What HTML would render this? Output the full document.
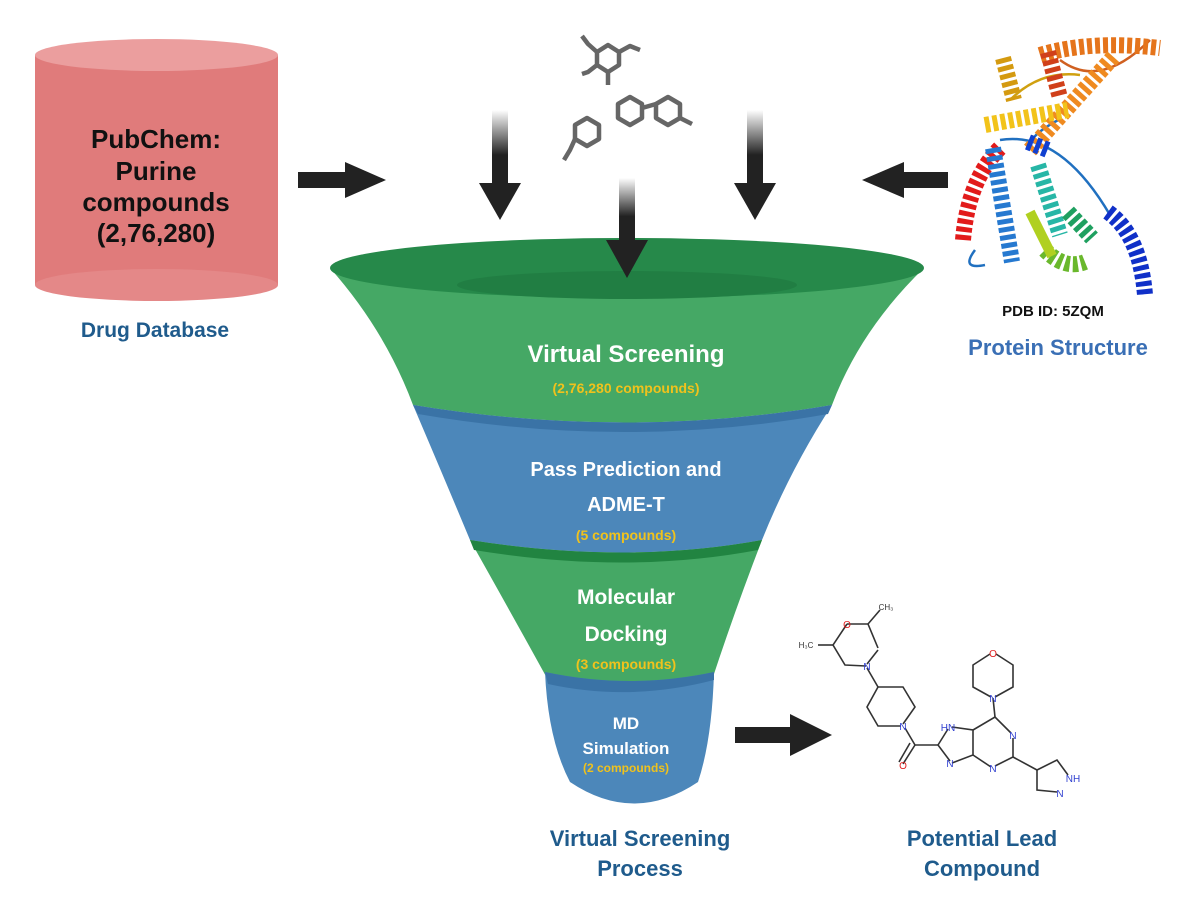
<!DOCTYPE html>
<html><head><meta charset="utf-8"><style>
html,body{margin:0;padding:0;background:#fff;}
svg{display:block;font-family:"Liberation Sans",sans-serif;}
</style></head><body>
<svg width="1200" height="897" viewBox="0 0 1200 897" xmlns="http://www.w3.org/2000/svg">
<defs>
<linearGradient id="fd" x1="0" y1="0" x2="0" y2="1"><stop offset="0" stop-color="#222" stop-opacity="0"/><stop offset="0.6" stop-color="#222" stop-opacity="1"/></linearGradient>
</defs>
<!-- cylinder -->
<rect x="35" y="55" width="243" height="230" fill="#e07b7b"/>
<ellipse cx="156.5" cy="285" rx="121.5" ry="16" fill="#e48888"/>
<ellipse cx="156.5" cy="55" rx="121.5" ry="16" fill="#eb9e9e"/>
<g font-weight="bold" font-size="26" text-anchor="middle" fill="#111">
<text x="156" y="148">PubChem:</text><text x="156" y="180">Purine</text><text x="156" y="211">compounds</text><text x="156" y="242">(2,76,280)</text>
</g>
<text x="155" y="337" font-weight="bold" font-size="21" text-anchor="middle" fill="#1f5b8c">Drug Database</text>
<!-- arrows -->
<g fill="#222">
<rect x="298" y="172" width="50" height="16"/><polygon points="345,162 386,180 345,198"/>
<rect x="902" y="172" width="46" height="16"/><polygon points="904,162 862,180 904,198"/>
<polygon points="735,727 790,727 790,714 832,735 790,756 790,743 735,743"/>
</g>
<rect x="492" y="110" width="16" height="75" fill="url(#fd)"/><polygon points="479,183 521,183 500,220" fill="#222"/>
<rect x="747" y="110" width="16" height="75" fill="url(#fd)"/><polygon points="734,183 776,183 755,220" fill="#222"/>
<!-- small molecules -->
<g stroke="#666" stroke-width="4.5" fill="none" stroke-linejoin="round">
<polygon points="597,52 608,45 619,52 619,65 608,72 597,65"/><polyline points="597,52 588,44 582,36"/><polyline points="619,52 630,46 640,50"/><polyline points="597,65 588,72 582,74"/><polyline points="608,72 608,85"/>
<polygon points="575,125 587,118 599,125 599,139 587,146 575,139"/><polyline points="575,139 570,150 564,160"/>
<polygon points="618,104 630,97 642,104 642,118 630,125 618,118"/><polyline points="642,108 656,104"/>
<polygon points="656,104 668,97 680,104 680,118 668,125 656,118"/><polyline points="680,118 692,124"/>
</g>
<!-- funnel -->
<path d="M330,268 Q385,330 413,405 Q626,440 832,405 Q860,330 924,268 Z" fill="#45a865"/>
<ellipse cx="627" cy="268" rx="297" ry="30" fill="#26894a"/>
<ellipse cx="627" cy="285" rx="170" ry="14" fill="#217e43"/>
<path d="M413,405 Q445,480 470,540 Q626,565 762,540 Q790,470 832,405 Q626,440 413,405 Z" fill="#4c87ba"/>
<path d="M413,405 Q626,440 832,405 L828,414 Q626,450 418,414 Z" fill="#3a73a6"/>
<path d="M470,540 Q515,620 548,680 Q630,695 712,680 Q735,610 762,540 Q626,565 470,540 Z" fill="#45a865"/>
<path d="M470,540 Q626,565 762,540 L758,550 Q626,575 474,550 Z" fill="#218441"/>
<path d="M545,672 Q548,740 570,782 Q634,825 698,782 Q712,740 714,672 Q630,690 545,672 Z" fill="#4c87ba"/>
<path d="M545,672 Q630,690 714,672 L714,680 Q630,702 548,684 Z" fill="#3a73a6"/>
<rect x="619" y="178" width="16" height="64" fill="url(#fd)"/><polygon points="606,240 648,240 627,278" fill="#222"/>
<g font-weight="bold" text-anchor="middle" fill="#fff">
<text x="626" y="362" font-size="24">Virtual Screening</text>
<text x="626" y="476" font-size="20">Pass Prediction and</text>
<text x="626" y="511" font-size="20">ADME-T</text>
<text x="626" y="604" font-size="21">Molecular</text>
<text x="626" y="641" font-size="21">Docking</text>
<text x="626" y="729" font-size="17">MD</text>
<text x="626" y="754" font-size="17">Simulation</text>
</g>
<g font-weight="bold" text-anchor="middle" fill="#f0c21c">
<text x="626" y="393" font-size="14">(2,76,280 compounds)</text>
<text x="626" y="540" font-size="14">(5 compounds)</text>
<text x="626" y="669" font-size="14">(3 compounds)</text>
<text x="626" y="772" font-size="12">(2 compounds)</text>
</g>
<g font-weight="bold" text-anchor="middle" fill="#1f5b8c" font-size="22">
<text x="640" y="846">Virtual Screening</text><text x="640" y="876">Process</text>
<text x="982" y="846">Potential Lead</text><text x="982" y="876">Compound</text>
</g>
<!-- protein -->
<g fill="none" stroke-width="2.5">
<path d="M1000,140 Q1060,130 1110,215 M975,250 Q960,270 985,265 M1062,118 Q1020,140 1035,150" stroke="#2070c0"/>
<path d="M1060,60 Q1100,90 1150,40" stroke="#d06020"/>
<path d="M1010,100 Q1040,70 1080,75" stroke="#d0a010"/>
</g>
<g fill="none" stroke-linecap="butt" stroke-width="16" stroke-dasharray="5 3">
<path d="M1040,55 Q1090,40 1160,48" stroke="#e5741b"/>
<path d="M1048,52 L1060,98" stroke="#d0401a"/>
<path d="M1003,58 L1014,100" stroke="#d49a10"/>
<path d="M1030,150 L1115,55" stroke="#ef8a20"/>
<path d="M985,125 L1068,110" stroke="#f2c31a"/>
<path d="M963,240 Q968,180 1000,148" stroke="#e21b1b"/>
<path d="M993,148 L1012,262" stroke="#2679d0"/>
<path d="M1038,165 L1060,235" stroke="#27b6a6"/>
<path d="M1045,250 Q1065,270 1085,262" stroke="#6ab82c"/>
<path d="M1068,212 L1092,238" stroke="#1fa060"/>
<path d="M1108,212 Q1140,235 1145,295" stroke="#1030c8"/>
<path d="M1028,142 L1048,150" stroke="#1040d0"/>
</g>
<path d="M1030,212 L1052,256" stroke="#b0d020" stroke-width="10" fill="none"/>
<text x="1053" y="316" font-weight="bold" font-size="15" text-anchor="middle" fill="#111">PDB ID: 5ZQM</text>
<text x="1058" y="355" font-weight="bold" font-size="22" text-anchor="middle" fill="#3a6fb5">Protein Structure</text>
<!-- lead molecule -->
<g stroke="#333" stroke-width="1.6" fill="none">
<polyline points="847,624 868,624 878,648"/><line x1="868" y1="624" x2="880" y2="610"/>
<polyline points="866,666 845,665 833,645 847,624"/><line x1="833" y1="645" x2="818" y2="645"/>
<line x1="878" y1="650" x2="867" y2="664"/><line x1="867" y1="668" x2="878" y2="687"/>
<polyline points="878,687 903,687 915,707 903,724"/><polyline points="901,726 878,726 867,707 878,687"/>
<polyline points="905,728 915,745 938,745"/><line x1="915" y1="745" x2="903" y2="764"/><line x1="910" y1="743" x2="899" y2="762"/>
<polyline points="938,745 948,729"/><polyline points="938,745 950,761"/>
<polyline points="952,727 973,730 973,755 952,763"/>
<polyline points="973,730 995,717 1011,733"/><line x1="993" y1="698" x2="995" y2="717"/>
<polyline points="1013,738 1013,757 995,766"/><polyline points="991,767 973,755"/>
<line x1="1013" y1="757" x2="1037" y2="770"/>
<polyline points="1037,770 1057,760 1068,775"/><polyline points="1037,770 1037,790 1057,792"/>
<polyline points="991,697 973,687 973,665 990,654"/><polyline points="996,654 1013,665 1013,687 995,697"/>
</g>
<g font-size="10" text-anchor="middle">
<text x="847" y="628" fill="#e02020">O</text>
<text x="867" y="670" fill="#3040d0">N</text>
<text x="903" y="730" fill="#3040d0">N</text>
<text x="903" y="769" fill="#e02020">O</text>
<text x="948" y="731" fill="#3040d0">HN</text>
<text x="950" y="767" fill="#3040d0">N</text>
<text x="1013" y="739" fill="#3040d0">N</text>
<text x="993" y="772" fill="#3040d0">N</text>
<text x="993" y="702" fill="#3040d0">N</text>
<text x="993" y="657" fill="#e02020">O</text>
<text x="1073" y="782" fill="#3040d0">NH</text>
<text x="1060" y="797" fill="#3040d0">N</text>
<text x="886" y="610" fill="#333" font-size="8">CH₃</text>
<text x="806" y="648" fill="#333" font-size="8">H₃C</text>
</g>
</svg>
</body></html>
